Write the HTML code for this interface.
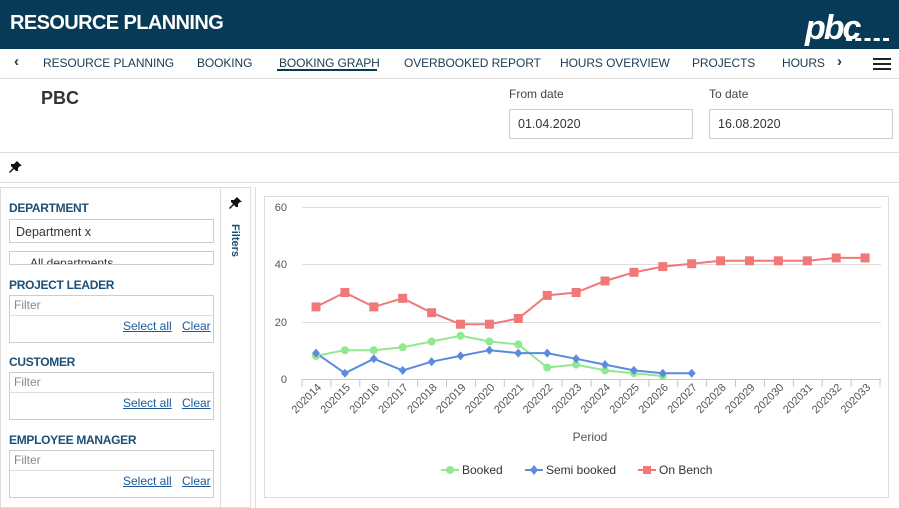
<!DOCTYPE html>
<html><head><meta charset="utf-8"><style>
*{margin:0;padding:0;box-sizing:border-box}
body{width:899px;height:508px;overflow:hidden;background:#fff;font-family:"Liberation Sans",sans-serif;position:relative;color:#333}
.a{position:absolute}
.hdr{left:0;top:0;width:899px;height:49px;background:#073a56}
.nav{font-size:12px;color:#1c3b55;top:56px;letter-spacing:-0.1px}
.box{border:1px solid #ccc;background:#fff}
.lbl{font-size:12px;font-weight:bold;color:#1b4f77;letter-spacing:-0.3px}
.lnk{font-size:12px;color:#1a5a9a;text-decoration:underline}
.flt{font-size:12px;color:#888}
</style></head><body>
<div class="a hdr"></div>
<div class="a" style="left:10px;top:12px;font-size:20px;font-weight:bold;color:#fff;letter-spacing:-0.6px">RESOURCE PLANNING</div>
<div class="a" style="left:805px;top:9px;font-size:34px;font-weight:bold;font-style:italic;color:#fff;letter-spacing:-2px">pbc</div>
<div class="a" style="left:846px;top:38px;width:43px;height:3px;border-top:3px dashed #fff"></div>
<div class="a" style="left:0;top:49px;width:899px;height:30px;border-bottom:1px solid #ddd"></div>
<div class="a nav" style="left:14px;font-weight:bold;font-size:15px;top:53px">‹</div>
<div class="a nav" style="left:43px">RESOURCE PLANNING</div>
<div class="a nav" style="left:197px">BOOKING</div>
<div class="a nav" style="left:279px">BOOKING GRAPH</div>
<div class="a" style="left:277px;top:69px;width:100px;height:2px;background:#073a56"></div>
<div class="a nav" style="left:404px">OVERBOOKED REPORT</div>
<div class="a nav" style="left:560px">HOURS OVERVIEW</div>
<div class="a nav" style="left:692px">PROJECTS</div>
<div class="a nav" style="left:782px">HOURS</div>
<div class="a nav" style="left:837px;font-weight:bold;font-size:15px;top:53px">›</div>
<div class="a" style="left:873px;top:58px;width:18px;height:2px;background:#222;box-shadow:0 5px 0 #222,0 10px 0 #222"></div>
<div class="a" style="left:41px;top:88px;font-size:18px;font-weight:bold;color:#333">PBC</div>
<div class="a" style="left:509px;top:87px;font-size:12px;color:#444">From date</div>
<div class="a" style="left:709px;top:87px;font-size:12px;color:#444">To date</div>
<div class="a box" style="left:509px;top:109px;width:184px;height:30px;font-size:12.5px;padding:7px 8px">01.04.2020</div>
<div class="a box" style="left:709px;top:109px;width:184px;height:30px;font-size:12.5px;padding:7px 8px">16.08.2020</div>
<div class="a" style="left:0;top:152px;width:899px;height:1px;background:#ddd"></div>
<svg class="a" style="left:9px;top:160px" width="14" height="14" viewBox="0 0 14 14"><path d="M8 1l5 5-2 0-2 2 0 3-2 0-2-2-4 4-1-1 4-4-2-2 0-2 3 0 2-2z" fill="#111"/></svg>
<div class="a" style="left:0;top:182px;width:899px;height:1px;background:#ddd"></div>
<div class="a" style="left:0;top:187px;width:251px;height:321px;border:1px solid #ddd"></div>
<div class="a" style="left:220px;top:187px;width:1px;height:321px;background:#ddd"></div>
<svg class="a" style="left:229px;top:196px" width="14" height="14" viewBox="0 0 14 14"><path d="M8 1l5 5-2 0-2 2 0 3-2 0-2-2-4 4-1-1 4-4-2-2 0-2 3 0 2-2z" fill="#111"/></svg>
<div class="a" style="left:229px;top:224px;font-size:11px;font-weight:bold;color:#1b4f77;writing-mode:vertical-rl">Filters</div>
<div class="a lbl" style="left:9px;top:201px">DEPARTMENT</div>
<div class="a box" style="left:9px;top:219px;width:205px;height:24px;font-size:12.5px;padding:5px 6px">Department x</div>
<div class="a box" style="left:9px;top:251px;width:205px;height:14px;overflow:hidden;font-size:12px;padding:4px 20px">All departments</div>
<div class="a lbl" style="left:9px;top:278px">PROJECT LEADER</div>
<div class="a box" style="left:9px;top:295px;width:205px;height:48px"></div>
<div class="a" style="left:10px;top:315px;width:203px;height:1px;background:#ddd"></div>
<div class="a flt" style="left:14px;top:298px">Filter</div>
<div class="a lnk" style="left:123px;top:319px">Select all</div><div class="a lnk" style="left:182px;top:319px">Clear</div>
<div class="a lbl" style="left:9px;top:355px">CUSTOMER</div>
<div class="a box" style="left:9px;top:372px;width:205px;height:48px"></div>
<div class="a" style="left:10px;top:392px;width:203px;height:1px;background:#ddd"></div>
<div class="a flt" style="left:14px;top:375px">Filter</div>
<div class="a lnk" style="left:123px;top:396px">Select all</div><div class="a lnk" style="left:182px;top:396px">Clear</div>
<div class="a lbl" style="left:9px;top:433px">EMPLOYEE MANAGER</div>
<div class="a box" style="left:9px;top:450px;width:205px;height:48px"></div>
<div class="a" style="left:10px;top:470px;width:203px;height:1px;background:#ddd"></div>
<div class="a flt" style="left:14px;top:453px">Filter</div>
<div class="a lnk" style="left:123px;top:474px">Select all</div><div class="a lnk" style="left:182px;top:474px">Clear</div>
<div class="a" style="left:255px;top:187px;width:644px;height:321px;border-left:1px solid #ddd"></div>
<div class="a" style="left:264px;top:196px;width:625px;height:302px;border:1px solid #ddd"></div>
<svg class="a" style="left:0;top:0" width="899" height="508" font-family="Liberation Sans,sans-serif">
<g stroke="#ddd" stroke-width="1">
<line x1="302" y1="207.5" x2="881" y2="207.5"/><line x1="302" y1="264.5" x2="881" y2="264.5"/><line x1="302" y1="322.5" x2="881" y2="322.5"/>
</g>
<line x1="302" y1="379.5" x2="881" y2="379.5" stroke="#bcc8dc"/>
<g stroke="#bcc8dc" id="t"></g>
<g font-size="11" fill="#555" text-anchor="end"><text x="287" y="211">60</text><text x="287" y="268">40</text><text x="287" y="326">20</text><text x="287" y="383">0</text></g>
<g font-size="11" fill="#555" text-anchor="end" id="xl"></g>
<text x="590" y="441" font-size="12" fill="#555" text-anchor="middle">Period</text>
<polyline fill="none" stroke="#f07878" stroke-width="2" points="316,306.9 344.9,292.5 373.8,306.9 402.7,298.3 431.6,312.7 460.5,324.2 489.4,324.2 518.3,318.5 547.2,295.4 576.1,292.5 605,281 633.9,272.3 662.8,266.6 691.7,263.7 720.6,260.8 749.5,260.8 778.4,260.8 807.3,260.8 836.2,257.9 865.1,257.9" id="rb"/>
<polyline fill="none" stroke="#90e890" stroke-width="2" points="316,355.9 344.9,350.2 373.8,350.2 402.7,347.3 431.6,341.5 460.5,335.8 489.4,341.5 518.3,344.4 547.2,367.5 576.1,364.6 605,370.4 633.9,373.2 662.8,376.1" id="gb"/>
<polyline fill="none" stroke="#5b8be0" stroke-width="2" points="316,353.1 344.9,373.2 373.8,358.8 402.7,370.4 431.6,361.7 460.5,355.9 489.4,350.2 518.3,353.1 547.2,353.1 576.1,358.8 605,364.6 633.9,370.4 662.8,373.2 691.7,373.2" id="bb"/>
<g id="mk"></g>
<g font-size="12" fill="#333">
<line x1="441" y1="470" x2="459" y2="470" stroke="#90e890" stroke-width="2"/><circle cx="450" cy="470" r="4" fill="#90e890"/><text x="462" y="474">Booked</text>
<line x1="525" y1="470" x2="543" y2="470" stroke="#5b8be0" stroke-width="2"/><path d="M534 465l4 5-4 5-4-5z" fill="#5b8be0"/><text x="546" y="474">Semi booked</text>
<line x1="638" y1="470" x2="656" y2="470" stroke="#f07878" stroke-width="2"/><rect x="643" y="466" width="8" height="8" fill="#f07878"/><text x="659" y="474">On Bench</text>
</g>
</svg>
<script>
var ns="http://www.w3.org/2000/svg",t=document.getElementById('t'),xl=document.getElementById('xl'),mk=document.getElementById('mk');
for(var k=0;k<=20;k++){var l=document.createElementNS(ns,'line');var x=302+28.9*k;l.setAttribute('x1',x);l.setAttribute('x2',x);l.setAttribute('y1',379);l.setAttribute('y2',387);t.appendChild(l);}
for(var i=0;i<20;i++){var x=316+28.9*i+6,y=388;var s=document.createElementNS(ns,'text');s.setAttribute('x',x);s.setAttribute('y',y);s.setAttribute('transform','rotate(-45 '+x+' '+y+')');s.textContent=String(202014+i);xl.appendChild(s);}
function pts(id){return document.getElementById(id).getAttribute('points').trim().split(' ').map(function(p){return p.split(',').map(Number)});}
pts('rb').forEach(function(p){var r=document.createElementNS(ns,'rect');r.setAttribute('x',p[0]-4.5);r.setAttribute('y',p[1]-4.5);r.setAttribute('width',9);r.setAttribute('height',9);r.setAttribute('fill','#f07878');mk.appendChild(r);});
pts('gb').forEach(function(p){var c=document.createElementNS(ns,'circle');c.setAttribute('cx',p[0]);c.setAttribute('cy',p[1]);c.setAttribute('r',4);c.setAttribute('fill','#90e890');mk.appendChild(c);});
pts('bb').forEach(function(p){var c=document.createElementNS(ns,'path');c.setAttribute('d','M'+p[0]+' '+(p[1]-4.5)+'l4 4.5-4 4.5-4-4.5z');c.setAttribute('fill','#5b8be0');mk.appendChild(c);});
</script>
</body></html>
